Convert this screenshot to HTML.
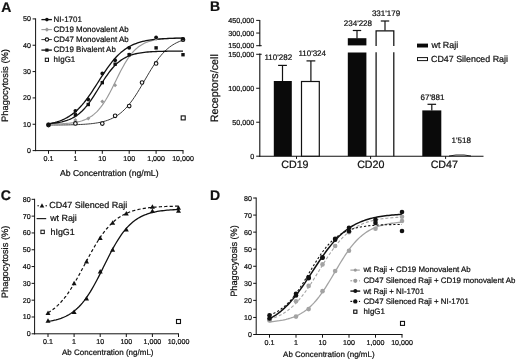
<!DOCTYPE html>
<html lang="en"><head><meta charset="utf-8"><title>Figure</title>
<style>
html,body{margin:0;padding:0;background:#fff;}
body{width:520px;height:359px;overflow:hidden;}
svg{display:block;filter:blur(0.3px);}
svg text{font-family:"Liberation Sans",sans-serif;fill:#111;text-rendering:geometricPrecision;stroke:#111;stroke-width:0.22px;}
</style></head><body>
<svg width="520" height="359" viewBox="0 0 520 359">
<rect width="520" height="359" fill="#fff"/>
<text x="1.30" y="11.50" font-size="14" text-anchor="start" font-weight="bold" fill="#000">A</text>
<line x1="35.60" y1="18.40" x2="35.60" y2="151.10" stroke="#111" stroke-width="1"/>
<line x1="35.10" y1="150.60" x2="183.50" y2="150.60" stroke="#111" stroke-width="1"/>
<line x1="48.50" y1="150.60" x2="48.50" y2="153.80" stroke="#111" stroke-width="1"/>
<text x="48.50" y="161.00" font-size="7.1" text-anchor="middle">0.1</text>
<line x1="75.40" y1="150.60" x2="75.40" y2="153.80" stroke="#111" stroke-width="1"/>
<text x="75.40" y="161.00" font-size="7.1" text-anchor="middle">1</text>
<line x1="102.30" y1="150.60" x2="102.30" y2="153.80" stroke="#111" stroke-width="1"/>
<text x="102.30" y="161.00" font-size="7.1" text-anchor="middle">10</text>
<line x1="129.20" y1="150.60" x2="129.20" y2="153.80" stroke="#111" stroke-width="1"/>
<text x="129.20" y="161.00" font-size="7.1" text-anchor="middle">100</text>
<line x1="156.10" y1="150.60" x2="156.10" y2="153.80" stroke="#111" stroke-width="1"/>
<text x="156.10" y="161.00" font-size="7.1" text-anchor="middle">1,000</text>
<line x1="183.00" y1="150.60" x2="183.00" y2="153.80" stroke="#111" stroke-width="1"/>
<text x="183.00" y="161.00" font-size="7.1" text-anchor="middle">10,000</text>
<line x1="32.60" y1="150.60" x2="35.60" y2="150.60" stroke="#111" stroke-width="1"/>
<text x="31.00" y="153.10" font-size="7.1" text-anchor="end">0</text>
<line x1="32.60" y1="124.26" x2="35.60" y2="124.26" stroke="#111" stroke-width="1"/>
<text x="31.00" y="126.76" font-size="7.1" text-anchor="end">10</text>
<line x1="32.60" y1="97.92" x2="35.60" y2="97.92" stroke="#111" stroke-width="1"/>
<text x="31.00" y="100.42" font-size="7.1" text-anchor="end">20</text>
<line x1="32.60" y1="71.58" x2="35.60" y2="71.58" stroke="#111" stroke-width="1"/>
<text x="31.00" y="74.08" font-size="7.1" text-anchor="end">30</text>
<line x1="32.60" y1="45.24" x2="35.60" y2="45.24" stroke="#111" stroke-width="1"/>
<text x="31.00" y="47.74" font-size="7.1" text-anchor="end">40</text>
<line x1="32.60" y1="18.90" x2="35.60" y2="18.90" stroke="#111" stroke-width="1"/>
<text x="31.00" y="21.40" font-size="7.1" text-anchor="end">50</text>
<text x="60.00" y="175.80" font-size="8.6" text-anchor="start" textLength="98.5" lengthAdjust="spacingAndGlyphs">Ab Concentration (ng/mL)</text>
<text x="7.60" y="122.00" font-size="9.3" text-anchor="start" textLength="73" lengthAdjust="spacingAndGlyphs" transform="rotate(-90 7.60 122.00)">Phagocytosis (%)</text>
<path d="M48.50,125.05 L50.18,125.04 L51.86,125.03 L53.54,125.03 L55.23,125.01 L56.91,125.00 L58.59,124.99 L60.27,124.97 L61.95,124.95 L63.63,124.93 L65.31,124.91 L66.99,124.88 L68.67,124.85 L70.36,124.82 L72.04,124.78 L73.72,124.73 L75.40,124.68 L77.08,124.63 L78.76,124.56 L80.44,124.48 L82.12,124.40 L83.81,124.30 L85.49,124.19 L87.17,124.07 L88.85,123.92 L90.53,123.76 L92.21,123.58 L93.89,123.37 L95.57,123.14 L97.26,122.87 L98.94,122.57 L100.62,122.23 L102.30,121.85 L103.98,121.41 L105.66,120.92 L107.34,120.37 L109.03,119.76 L110.71,119.06 L112.39,118.29 L114.07,117.42 L115.75,116.46 L117.43,115.39 L119.11,114.20 L120.79,112.90 L122.47,111.46 L124.16,109.89 L125.84,108.17 L127.52,106.32 L129.20,104.31 L130.88,102.17 L132.56,99.88 L134.24,97.46 L135.93,94.92 L137.61,92.27 L139.29,89.52 L140.97,86.71 L142.65,83.84 L144.33,80.94 L146.01,78.04 L147.69,75.16 L149.38,72.32 L151.06,69.55 L152.74,66.86 L154.42,64.28 L156.10,61.82 L157.78,59.49 L159.46,57.30 L161.14,55.25 L162.82,53.34 L164.51,51.58 L166.19,49.96 L167.87,48.48 L169.55,47.13 L171.23,45.90 L172.91,44.80 L174.59,43.80 L176.27,42.90 L177.96,42.10 L179.64,41.38 L181.32,40.74 L183.00,40.17" fill="none" stroke="#3a3a3a" stroke-width="1.0" stroke-linejoin="round"/>
<path d="M48.50,124.11 L50.18,124.08 L51.86,124.05 L53.54,124.01 L55.23,123.97 L56.91,123.92 L58.59,123.86 L60.27,123.79 L61.95,123.71 L63.63,123.62 L65.31,123.51 L66.99,123.39 L68.67,123.24 L70.36,123.06 L72.04,122.86 L73.72,122.63 L75.40,122.35 L77.08,122.04 L78.76,121.67 L80.44,121.24 L82.12,120.74 L83.81,120.16 L85.49,119.50 L87.17,118.73 L88.85,117.86 L90.53,116.85 L92.21,115.71 L93.89,114.41 L95.57,112.94 L97.26,111.29 L98.94,109.45 L100.62,107.40 L102.30,105.15 L103.98,102.69 L105.66,100.03 L107.34,97.17 L109.03,94.15 L110.71,90.97 L112.39,87.68 L114.07,84.31 L115.75,80.89 L117.43,77.48 L119.11,74.12 L120.79,70.83 L122.47,67.67 L124.16,64.66 L125.84,61.83 L127.52,59.18 L129.20,56.75 L130.88,54.51 L132.56,52.49 L134.24,50.67 L135.93,49.03 L137.61,47.58 L139.29,46.30 L140.97,45.17 L142.65,44.18 L144.33,43.31 L146.01,42.56 L147.69,41.90 L149.38,41.33 L151.06,40.84 L152.74,40.42 L154.42,40.06 L156.10,39.74 L157.78,39.47 L159.46,39.24 L161.14,39.04 L162.82,38.87 L164.51,38.73 L166.19,38.60 L167.87,38.49 L169.55,38.40 L171.23,38.32 L172.91,38.26 L174.59,38.20 L176.27,38.15 L177.96,38.11 L179.64,38.07 L181.32,38.04 L183.00,38.02" fill="none" stroke="#999" stroke-width="1.15" stroke-linejoin="round"/>
<path d="M48.50,123.67 L50.18,123.54 L51.86,123.38 L53.54,123.20 L55.23,123.00 L56.91,122.76 L58.59,122.49 L60.27,122.17 L61.95,121.81 L63.63,121.39 L65.31,120.92 L66.99,120.38 L68.67,119.76 L70.36,119.05 L72.04,118.25 L73.72,117.35 L75.40,116.33 L77.08,115.19 L78.76,113.91 L80.44,112.49 L82.12,110.92 L83.81,109.20 L85.49,107.33 L87.17,105.30 L88.85,103.12 L90.53,100.81 L92.21,98.37 L93.89,95.82 L95.57,93.19 L97.26,90.50 L98.94,87.78 L100.62,85.06 L102.30,82.37 L103.98,79.74 L105.66,77.20 L107.34,74.76 L109.03,72.44 L110.71,70.26 L112.39,68.23 L114.07,66.36 L115.75,64.64 L117.43,63.07 L119.11,61.65 L120.79,60.38 L122.47,59.23 L124.16,58.21 L125.84,57.31 L127.52,56.51 L129.20,55.80 L130.88,55.18 L132.56,54.64 L134.24,54.16 L135.93,53.75 L137.61,53.39 L139.29,53.07 L140.97,52.80 L142.65,52.56 L144.33,52.35 L146.01,52.18 L147.69,52.02 L149.38,51.89 L151.06,51.77 L152.74,51.67 L154.42,51.58 L156.10,51.51 L157.78,51.44 L159.46,51.39 L161.14,51.34 L162.82,51.30 L164.51,51.26 L166.19,51.23 L167.87,51.20 L169.55,51.18 L171.23,51.16 L172.91,51.14 L174.59,51.13 L176.27,51.12 L177.96,51.10 L179.64,51.09 L181.32,51.09 L183.00,51.08" fill="none" stroke="#111" stroke-width="1.3" stroke-linejoin="round"/>
<path d="M48.50,123.84 L50.18,123.53 L51.86,123.18 L53.54,122.79 L55.23,122.36 L56.91,121.88 L58.59,121.34 L60.27,120.74 L61.95,120.08 L63.63,119.34 L65.31,118.53 L66.99,117.64 L68.67,116.65 L70.36,115.57 L72.04,114.38 L73.72,113.09 L75.40,111.69 L77.08,110.16 L78.76,108.52 L80.44,106.76 L82.12,104.88 L83.81,102.87 L85.49,100.76 L87.17,98.53 L88.85,96.20 L90.53,93.78 L92.21,91.29 L93.89,88.73 L95.57,86.13 L97.26,83.49 L98.94,80.85 L100.62,78.22 L102.30,75.61 L103.98,73.05 L105.66,70.55 L107.34,68.13 L109.03,65.80 L110.71,63.57 L112.39,61.45 L114.07,59.44 L115.75,57.55 L117.43,55.78 L119.11,54.14 L120.79,52.61 L122.47,51.20 L124.16,49.90 L125.84,48.71 L127.52,47.63 L129.20,46.64 L130.88,45.74 L132.56,44.92 L134.24,44.18 L135.93,43.52 L137.61,42.92 L139.29,42.38 L140.97,41.89 L142.65,41.46 L144.33,41.07 L146.01,40.72 L147.69,40.41 L149.38,40.13 L151.06,39.88 L152.74,39.66 L154.42,39.46 L156.10,39.28 L157.78,39.12 L159.46,38.98 L161.14,38.86 L162.82,38.75 L164.51,38.65 L166.19,38.56 L167.87,38.48 L169.55,38.42 L171.23,38.35 L172.91,38.30 L174.59,38.25 L176.27,38.21 L177.96,38.17 L179.64,38.13 L181.32,38.10 L183.00,38.08" fill="none" stroke="#111" stroke-width="1.3" stroke-linejoin="round"/>
<path d="M48.50,123.31 L50.50,125.31 L48.50,127.31 L46.50,125.31 Z" fill="#999"/>
<path d="M75.40,117.91 L77.40,119.91 L75.40,121.91 L73.40,119.91 Z" fill="#999"/>
<path d="M88.23,116.47 L90.23,118.47 L88.23,120.47 L86.23,118.47 Z" fill="#999"/>
<path d="M102.30,99.61 L104.30,101.61 L102.30,103.61 L100.30,101.61 Z" fill="#999"/>
<path d="M115.13,83.28 L117.13,85.28 L115.13,87.28 L113.13,85.28 Z" fill="#999"/>
<path d="M129.20,52.20 L131.20,54.20 L129.20,56.20 L127.20,54.20 Z" fill="#999"/>
<path d="M156.10,36.66 L158.10,38.66 L156.10,40.66 L154.10,38.66 Z" fill="#999"/>
<path d="M183.00,37.45 L185.00,39.45 L183.00,41.45 L181.00,39.45 Z" fill="#999"/>
<circle cx="48.50" cy="125.05" r="1.8" fill="#fff" stroke="#111" stroke-width="1.1"/>
<circle cx="75.40" cy="123.47" r="1.8" fill="#fff" stroke="#111" stroke-width="1.1"/>
<circle cx="102.30" cy="123.60" r="1.8" fill="#fff" stroke="#111" stroke-width="1.1"/>
<circle cx="115.13" cy="115.83" r="1.8" fill="#fff" stroke="#111" stroke-width="1.1"/>
<circle cx="129.20" cy="106.09" r="1.8" fill="#fff" stroke="#111" stroke-width="1.1"/>
<circle cx="142.03" cy="82.51" r="1.8" fill="#fff" stroke="#111" stroke-width="1.1"/>
<circle cx="156.10" cy="63.41" r="1.8" fill="#fff" stroke="#111" stroke-width="1.1"/>
<circle cx="183.00" cy="39.71" r="1.8" fill="#fff" stroke="#111" stroke-width="1.1"/>
<rect x="46.80" y="122.82" width="3.4" height="3.4" fill="#111"/>
<rect x="73.70" y="113.08" width="3.4" height="3.4" fill="#111"/>
<rect x="86.53" y="102.80" width="3.4" height="3.4" fill="#111"/>
<rect x="100.60" y="80.94" width="3.4" height="3.4" fill="#111"/>
<rect x="113.43" y="62.50" width="3.4" height="3.4" fill="#111"/>
<rect x="127.50" y="53.02" width="3.4" height="3.4" fill="#111"/>
<rect x="154.40" y="46.17" width="3.4" height="3.4" fill="#111"/>
<rect x="181.30" y="53.02" width="3.4" height="3.4" fill="#111"/>
<circle cx="48.50" cy="124.52" r="1.9" fill="#111"/>
<circle cx="75.40" cy="110.83" r="1.9" fill="#111"/>
<circle cx="88.23" cy="99.50" r="1.9" fill="#111"/>
<circle cx="102.30" cy="73.42" r="1.9" fill="#111"/>
<circle cx="115.13" cy="60.25" r="1.9" fill="#111"/>
<circle cx="129.20" cy="47.87" r="1.9" fill="#111"/>
<circle cx="156.10" cy="37.34" r="1.9" fill="#111"/>
<circle cx="183.00" cy="38.92" r="1.9" fill="#111"/>
<rect x="181.20" y="115.90" width="4.0" height="4.0" fill="#fff" stroke="#111" stroke-width="1.1"/>
<line x1="41.40" y1="19.60" x2="51.90" y2="19.60" stroke="#111" stroke-width="1.3"/>
<circle cx="46.90" cy="19.60" r="1.8" fill="#111"/>
<line x1="41.40" y1="29.60" x2="51.90" y2="29.60" stroke="#999" stroke-width="1.1"/>
<path d="M46.90,27.40 L49.10,29.60 L46.90,31.80 L44.70,29.60 Z" fill="#999"/>
<line x1="41.40" y1="39.60" x2="51.90" y2="39.60" stroke="#333" stroke-width="1.0"/>
<circle cx="46.90" cy="39.60" r="1.7" fill="#fff" stroke="#111" stroke-width="1.1"/>
<line x1="41.40" y1="50.10" x2="51.90" y2="50.10" stroke="#111" stroke-width="1.3"/>
<rect x="45.30" y="48.50" width="3.2" height="3.2" fill="#111"/>
<rect x="45.30" y="58.20" width="3.2" height="3.2" fill="#fff" stroke="#111" stroke-width="1.0"/>
<text x="53.60" y="21.95" font-size="7.95" text-anchor="start">NI-1701</text>
<text x="53.60" y="31.95" font-size="7.95" text-anchor="start">CD19 Monovalent Ab</text>
<text x="53.60" y="41.95" font-size="7.95" text-anchor="start">CD47 Monovalent Ab</text>
<text x="53.60" y="52.45" font-size="7.95" text-anchor="start">CD19 Bivalent Ab</text>
<text x="53.60" y="62.15" font-size="7.95" text-anchor="start">hIgG1</text>
<text x="210.10" y="11.30" font-size="14" text-anchor="start" font-weight="bold" fill="#000">B</text>
<line x1="259.80" y1="53.50" x2="259.80" y2="156.70" stroke="#111" stroke-width="1.1"/>
<line x1="259.80" y1="19.90" x2="259.80" y2="46.20" stroke="#111" stroke-width="1.1"/>
<line x1="259.30" y1="156.20" x2="483.50" y2="156.20" stroke="#111" stroke-width="1.1"/>
<line x1="256.20" y1="156.20" x2="259.80" y2="156.20" stroke="#111" stroke-width="1"/>
<text x="254.30" y="158.70" font-size="7.2" text-anchor="end">0</text>
<line x1="256.20" y1="122.23" x2="259.80" y2="122.23" stroke="#111" stroke-width="1"/>
<text x="254.30" y="124.73" font-size="7.2" text-anchor="end">50,000</text>
<line x1="256.20" y1="88.26" x2="259.80" y2="88.26" stroke="#111" stroke-width="1"/>
<text x="254.30" y="90.76" font-size="7.2" text-anchor="end">100,000</text>
<line x1="256.20" y1="54.29" x2="261.70" y2="54.29" stroke="#111" stroke-width="1"/>
<text x="254.30" y="56.79" font-size="7.2" text-anchor="end">150,000</text>
<line x1="256.20" y1="20.40" x2="259.80" y2="20.40" stroke="#111" stroke-width="1"/>
<text x="254.30" y="22.90" font-size="7.2" text-anchor="end">450,000</text>
<line x1="256.20" y1="33.05" x2="259.80" y2="33.05" stroke="#111" stroke-width="1"/>
<text x="254.30" y="35.55" font-size="7.2" text-anchor="end">300,000</text>
<line x1="256.20" y1="45.70" x2="261.70" y2="45.70" stroke="#111" stroke-width="1"/>
<text x="254.30" y="48.20" font-size="7.2" text-anchor="end">150,000</text>
<text x="218.20" y="122.20" font-size="10.7" text-anchor="start" textLength="68" lengthAdjust="spacingAndGlyphs" transform="rotate(-90 218.20 122.20)">Receptors/cell</text>
<line x1="296.50" y1="156.20" x2="296.50" y2="158.90" stroke="#111" stroke-width="1"/>
<text x="294.90" y="168.40" font-size="10.7" text-anchor="middle">CD19</text>
<line x1="370.60" y1="156.20" x2="370.60" y2="158.90" stroke="#111" stroke-width="1"/>
<text x="370.80" y="168.40" font-size="10.7" text-anchor="middle">CD20</text>
<line x1="445.60" y1="156.20" x2="445.60" y2="158.90" stroke="#111" stroke-width="1"/>
<text x="444.30" y="168.40" font-size="10.7" text-anchor="middle">CD47</text>
<line x1="282.50" y1="65.40" x2="282.50" y2="81.00" stroke="#111" stroke-width="1.2"/>
<line x1="278.10" y1="65.40" x2="286.90" y2="65.40" stroke="#111" stroke-width="1.2"/>
<rect x="273.80" y="81.00" width="18.00" height="75.20" fill="#0a0a0a"/>
<line x1="310.90" y1="60.90" x2="310.90" y2="81.00" stroke="#111" stroke-width="1.2"/>
<line x1="306.50" y1="60.90" x2="315.30" y2="60.90" stroke="#111" stroke-width="1.2"/>
<rect x="301.50" y="81.50" width="17.80" height="74.70" fill="#fff" stroke="#111" stroke-width="1.2"/>
<line x1="357.00" y1="30.50" x2="357.00" y2="38.50" stroke="#111" stroke-width="1.2"/>
<line x1="352.80" y1="30.50" x2="361.20" y2="30.50" stroke="#111" stroke-width="1.2"/>
<rect x="347.80" y="52.50" width="18.60" height="103.70" fill="#0a0a0a"/>
<rect x="347.80" y="38.20" width="18.60" height="7.20" fill="#0a0a0a"/>
<line x1="385.00" y1="21.00" x2="385.00" y2="30.50" stroke="#111" stroke-width="1.2"/>
<line x1="380.80" y1="21.00" x2="389.20" y2="21.00" stroke="#111" stroke-width="1.2"/>
<path d="M376.1,156.2 V52.3 M393.8,156.2 V52.3 M376.1,46 V30.8 H393.8 V46" fill="none" stroke="#111" stroke-width="1.25"/>
<line x1="431.80" y1="104.30" x2="431.80" y2="110.50" stroke="#111" stroke-width="1.2"/>
<line x1="427.50" y1="104.30" x2="436.10" y2="104.30" stroke="#111" stroke-width="1.2"/>
<rect x="422.30" y="110.40" width="19.00" height="45.80" fill="#0a0a0a"/>
<path d="M449,156.0 L456,155.0 L464,155.0 L471,156.0" fill="none" stroke="#111" stroke-width="0.9"/>
<text x="278.30" y="59.90" font-size="8.0" text-anchor="middle">110'282</text>
<text x="312.20" y="55.70" font-size="8.0" text-anchor="middle">110'324</text>
<text x="357.90" y="25.80" font-size="8.0" text-anchor="middle">234'228</text>
<text x="386.00" y="15.50" font-size="8.0" text-anchor="middle">331'179</text>
<text x="432.50" y="99.50" font-size="8.0" text-anchor="middle">67'881</text>
<text x="461.20" y="142.80" font-size="8.0" text-anchor="middle">1'518</text>
<rect x="417" y="43.6" width="11" height="3.9" fill="#0a0a0a"/>
<rect x="417.5" y="57.6" width="10" height="3" fill="#fff" stroke="#111" stroke-width="1"/>
<text x="431.50" y="47.80" font-size="8.9" text-anchor="start">wt Raji</text>
<text x="431.00" y="62.30" font-size="8.9" text-anchor="start" textLength="77" lengthAdjust="spacingAndGlyphs">CD47 Silenced Raji</text>
<text x="0.75" y="199.50" font-size="14" text-anchor="start" font-weight="bold" fill="#000">C</text>
<line x1="34.60" y1="198.80" x2="34.60" y2="334.30" stroke="#111" stroke-width="1"/>
<line x1="34.10" y1="333.80" x2="179.00" y2="333.80" stroke="#111" stroke-width="1"/>
<line x1="48.00" y1="333.80" x2="48.00" y2="337.00" stroke="#111" stroke-width="1"/>
<text x="48.00" y="343.80" font-size="7.1" text-anchor="middle">0.1</text>
<line x1="74.10" y1="333.80" x2="74.10" y2="337.00" stroke="#111" stroke-width="1"/>
<text x="74.10" y="343.80" font-size="7.1" text-anchor="middle">1</text>
<line x1="100.20" y1="333.80" x2="100.20" y2="337.00" stroke="#111" stroke-width="1"/>
<text x="100.20" y="343.80" font-size="7.1" text-anchor="middle">10</text>
<line x1="126.30" y1="333.80" x2="126.30" y2="337.00" stroke="#111" stroke-width="1"/>
<text x="126.30" y="343.80" font-size="7.1" text-anchor="middle">100</text>
<line x1="152.40" y1="333.80" x2="152.40" y2="337.00" stroke="#111" stroke-width="1"/>
<text x="152.40" y="343.80" font-size="7.1" text-anchor="middle">1,000</text>
<line x1="178.50" y1="333.80" x2="178.50" y2="337.00" stroke="#111" stroke-width="1"/>
<text x="178.50" y="343.80" font-size="7.1" text-anchor="middle">10,000</text>
<line x1="31.60" y1="333.80" x2="34.60" y2="333.80" stroke="#111" stroke-width="1"/>
<text x="30.60" y="336.30" font-size="7.1" text-anchor="end">0</text>
<line x1="31.60" y1="316.99" x2="34.60" y2="316.99" stroke="#111" stroke-width="1"/>
<text x="30.60" y="319.49" font-size="7.1" text-anchor="end">10</text>
<line x1="31.60" y1="300.18" x2="34.60" y2="300.18" stroke="#111" stroke-width="1"/>
<text x="30.60" y="302.68" font-size="7.1" text-anchor="end">20</text>
<line x1="31.60" y1="283.37" x2="34.60" y2="283.37" stroke="#111" stroke-width="1"/>
<text x="30.60" y="285.87" font-size="7.1" text-anchor="end">30</text>
<line x1="31.60" y1="266.56" x2="34.60" y2="266.56" stroke="#111" stroke-width="1"/>
<text x="30.60" y="269.06" font-size="7.1" text-anchor="end">40</text>
<line x1="31.60" y1="249.75" x2="34.60" y2="249.75" stroke="#111" stroke-width="1"/>
<text x="30.60" y="252.25" font-size="7.1" text-anchor="end">50</text>
<line x1="31.60" y1="232.94" x2="34.60" y2="232.94" stroke="#111" stroke-width="1"/>
<text x="30.60" y="235.44" font-size="7.1" text-anchor="end">60</text>
<line x1="31.60" y1="216.13" x2="34.60" y2="216.13" stroke="#111" stroke-width="1"/>
<text x="30.60" y="218.63" font-size="7.1" text-anchor="end">70</text>
<line x1="31.60" y1="199.32" x2="34.60" y2="199.32" stroke="#111" stroke-width="1"/>
<text x="30.60" y="201.82" font-size="7.1" text-anchor="end">80</text>
<text x="62.00" y="355.30" font-size="8.0" text-anchor="start" textLength="91.5" lengthAdjust="spacingAndGlyphs">Ab Concentration (ng/mL)</text>
<text x="7.60" y="298.20" font-size="9.2" text-anchor="start" textLength="72.7" lengthAdjust="spacingAndGlyphs" transform="rotate(-90 7.60 298.20)">Phagocytosis (%)</text>
<path d="M48.00,312.84 L49.63,311.84 L51.26,310.74 L52.89,309.55 L54.52,308.26 L56.16,306.86 L57.79,305.36 L59.42,303.73 L61.05,301.99 L62.68,300.13 L64.31,298.14 L65.94,296.03 L67.58,293.80 L69.21,291.44 L70.84,288.97 L72.47,286.38 L74.10,283.69 L75.73,280.91 L77.36,278.04 L78.99,275.10 L80.62,272.11 L82.26,269.07 L83.89,266.01 L85.52,262.94 L87.15,259.87 L88.78,256.83 L90.41,253.83 L92.04,250.89 L93.68,248.02 L95.31,245.23 L96.94,242.54 L98.57,239.94 L100.20,237.46 L101.83,235.10 L103.46,232.86 L105.09,230.74 L106.72,228.74 L108.36,226.87 L109.99,225.12 L111.62,223.49 L113.25,221.98 L114.88,220.57 L116.51,219.28 L118.14,218.08 L119.78,216.98 L121.41,215.97 L123.04,215.04 L124.67,214.19 L126.30,213.41 L127.93,212.71 L129.56,212.06 L131.19,211.47 L132.82,210.94 L134.46,210.45 L136.09,210.01 L137.72,209.61 L139.35,209.25 L140.98,208.92 L142.61,208.63 L144.24,208.36 L145.88,208.12 L147.51,207.90 L149.14,207.70 L150.77,207.52 L152.40,207.36 L154.03,207.21 L155.66,207.08 L157.29,206.96 L158.93,206.85 L160.56,206.76 L162.19,206.67 L163.82,206.59 L165.45,206.52 L167.08,206.46 L168.71,206.40 L170.34,206.35 L171.98,206.30 L173.61,206.26 L175.24,206.22 L176.87,206.19 L178.50,206.15" fill="none" stroke="#111" stroke-width="1.2" stroke-dasharray="3.2,2.2" stroke-linejoin="round"/>
<path d="M48.00,321.43 L49.63,321.17 L51.26,320.88 L52.89,320.55 L54.52,320.19 L56.16,319.79 L57.79,319.34 L59.42,318.84 L61.05,318.28 L62.68,317.66 L64.31,316.98 L65.94,316.22 L67.58,315.38 L69.21,314.46 L70.84,313.44 L72.47,312.32 L74.10,311.10 L75.73,309.75 L77.36,308.29 L78.99,306.69 L80.62,304.96 L82.26,303.10 L83.89,301.08 L85.52,298.93 L87.15,296.62 L88.78,294.18 L90.41,291.59 L92.04,288.86 L93.68,286.01 L95.31,283.05 L96.94,279.98 L98.57,276.83 L100.20,273.61 L101.83,270.34 L103.46,267.04 L105.09,263.74 L106.72,260.46 L108.36,257.21 L109.99,254.03 L111.62,250.92 L113.25,247.90 L114.88,244.99 L116.51,242.21 L118.14,239.56 L119.78,237.04 L121.41,234.67 L123.04,232.44 L124.67,230.36 L126.30,228.42 L127.93,226.63 L129.56,224.97 L131.19,223.44 L132.82,222.04 L134.46,220.76 L136.09,219.59 L137.72,218.53 L139.35,217.56 L140.98,216.68 L142.61,215.89 L144.24,215.17 L145.88,214.52 L147.51,213.94 L149.14,213.41 L150.77,212.94 L152.40,212.51 L154.03,212.13 L155.66,211.79 L157.29,211.48 L158.93,211.21 L160.56,210.96 L162.19,210.74 L163.82,210.54 L165.45,210.37 L167.08,210.21 L168.71,210.07 L170.34,209.94 L171.98,209.83 L173.61,209.73 L175.24,209.64 L176.87,209.56 L178.50,209.49" fill="none" stroke="#111" stroke-width="1.3" stroke-linejoin="round"/>
<path d="M48.00,310.46 L50.50,314.96 L45.50,314.96 Z" fill="#111"/>
<path d="M74.10,280.87 L76.60,285.37 L71.60,285.37 Z" fill="#111"/>
<path d="M86.55,259.02 L89.05,263.52 L84.05,263.52 Z" fill="#111"/>
<path d="M100.20,235.48 L102.70,239.98 L97.70,239.98 Z" fill="#111"/>
<path d="M112.65,220.35 L115.15,224.85 L110.15,224.85 Z" fill="#111"/>
<path d="M126.30,211.11 L128.80,215.61 L123.80,215.61 Z" fill="#111"/>
<path d="M152.40,204.22 L154.90,208.72 L149.90,208.72 Z" fill="#111"/>
<path d="M178.50,205.23 L181.00,209.73 L176.00,209.73 Z" fill="#111"/>
<path d="M48.00,318.19 L50.50,322.69 L45.50,322.69 Z" fill="#111"/>
<path d="M74.10,309.45 L76.60,313.95 L71.60,313.95 Z" fill="#111"/>
<path d="M86.55,296.00 L89.05,300.50 L84.05,300.50 Z" fill="#111"/>
<path d="M100.20,269.10 L102.70,273.60 L97.70,273.60 Z" fill="#111"/>
<path d="M112.65,247.25 L115.15,251.75 L110.15,251.75 Z" fill="#111"/>
<path d="M126.30,227.08 L128.80,231.58 L123.80,231.58 Z" fill="#111"/>
<path d="M152.40,208.59 L154.90,213.09 L149.90,213.09 Z" fill="#111"/>
<path d="M178.50,208.25 L181.00,212.75 L176.00,212.75 Z" fill="#111"/>
<rect x="176.50" y="319.50" width="4.0" height="4.0" fill="#fff" stroke="#111" stroke-width="1.1"/>
<circle cx="38.10" cy="205.80" r="0.75" fill="#111"/>
<circle cx="46.20" cy="205.80" r="0.75" fill="#111"/>
<path d="M42.00,203.30 L44.30,207.44 L39.70,207.44 Z" fill="#111"/>
<line x1="36.60" y1="218.60" x2="46.20" y2="218.60" stroke="#222" stroke-width="1.2"/>
<rect x="40.90" y="230.20" width="3.4" height="3.4" fill="#fff" stroke="#111" stroke-width="1.0"/>
<text x="49.30" y="208.40" font-size="8.9" text-anchor="start" textLength="78" lengthAdjust="spacingAndGlyphs">CD47 Silenced Raji</text>
<text x="50.20" y="221.40" font-size="8.9" text-anchor="start">wt Raji</text>
<text x="50.50" y="235.00" font-size="8.9" text-anchor="start">hIgG1</text>
<text x="210.10" y="199.60" font-size="14" text-anchor="start" font-weight="bold" fill="#000">D</text>
<line x1="256.20" y1="197.50" x2="256.20" y2="335.00" stroke="#111" stroke-width="1"/>
<line x1="255.70" y1="334.50" x2="402.50" y2="334.50" stroke="#111" stroke-width="1"/>
<line x1="269.50" y1="334.50" x2="269.50" y2="337.70" stroke="#111" stroke-width="1"/>
<text x="269.50" y="345.00" font-size="7.1" text-anchor="middle">0.1</text>
<line x1="296.00" y1="334.50" x2="296.00" y2="337.70" stroke="#111" stroke-width="1"/>
<text x="296.00" y="345.00" font-size="7.1" text-anchor="middle">1</text>
<line x1="322.50" y1="334.50" x2="322.50" y2="337.70" stroke="#111" stroke-width="1"/>
<text x="322.50" y="345.00" font-size="7.1" text-anchor="middle">10</text>
<line x1="349.00" y1="334.50" x2="349.00" y2="337.70" stroke="#111" stroke-width="1"/>
<text x="349.00" y="345.00" font-size="7.1" text-anchor="middle">100</text>
<line x1="375.50" y1="334.50" x2="375.50" y2="337.70" stroke="#111" stroke-width="1"/>
<text x="375.50" y="345.00" font-size="7.1" text-anchor="middle">1,000</text>
<line x1="402.00" y1="334.50" x2="402.00" y2="337.70" stroke="#111" stroke-width="1"/>
<text x="402.00" y="345.00" font-size="7.1" text-anchor="middle">10,000</text>
<line x1="253.20" y1="334.50" x2="256.20" y2="334.50" stroke="#111" stroke-width="1"/>
<text x="252.00" y="337.00" font-size="7.1" text-anchor="end">0</text>
<line x1="253.20" y1="317.44" x2="256.20" y2="317.44" stroke="#111" stroke-width="1"/>
<text x="252.00" y="319.94" font-size="7.1" text-anchor="end">10</text>
<line x1="253.20" y1="300.38" x2="256.20" y2="300.38" stroke="#111" stroke-width="1"/>
<text x="252.00" y="302.88" font-size="7.1" text-anchor="end">20</text>
<line x1="253.20" y1="283.32" x2="256.20" y2="283.32" stroke="#111" stroke-width="1"/>
<text x="252.00" y="285.82" font-size="7.1" text-anchor="end">30</text>
<line x1="253.20" y1="266.26" x2="256.20" y2="266.26" stroke="#111" stroke-width="1"/>
<text x="252.00" y="268.76" font-size="7.1" text-anchor="end">40</text>
<line x1="253.20" y1="249.20" x2="256.20" y2="249.20" stroke="#111" stroke-width="1"/>
<text x="252.00" y="251.70" font-size="7.1" text-anchor="end">50</text>
<line x1="253.20" y1="232.14" x2="256.20" y2="232.14" stroke="#111" stroke-width="1"/>
<text x="252.00" y="234.64" font-size="7.1" text-anchor="end">60</text>
<line x1="253.20" y1="215.08" x2="256.20" y2="215.08" stroke="#111" stroke-width="1"/>
<text x="252.00" y="217.58" font-size="7.1" text-anchor="end">70</text>
<line x1="253.20" y1="198.02" x2="256.20" y2="198.02" stroke="#111" stroke-width="1"/>
<text x="252.00" y="200.52" font-size="7.1" text-anchor="end">80</text>
<text x="283.10" y="356.50" font-size="8.0" text-anchor="start" textLength="91.5" lengthAdjust="spacingAndGlyphs">Ab Concentration (ng/mL)</text>
<text x="236.80" y="296.80" font-size="9.2" text-anchor="start" textLength="71.7" lengthAdjust="spacingAndGlyphs" transform="rotate(-90 236.80 296.80)">Phagocytosis (%)</text>
<path d="M269.50,321.91 L271.16,321.76 L272.81,321.60 L274.47,321.41 L276.12,321.21 L277.78,320.98 L279.44,320.73 L281.09,320.44 L282.75,320.13 L284.41,319.78 L286.06,319.40 L287.72,318.97 L289.38,318.50 L291.03,317.98 L292.69,317.41 L294.34,316.77 L296.00,316.07 L297.66,315.31 L299.31,314.46 L300.97,313.54 L302.62,312.53 L304.28,311.43 L305.94,310.23 L307.59,308.92 L309.25,307.51 L310.91,305.99 L312.56,304.35 L314.22,302.60 L315.88,300.72 L317.53,298.73 L319.19,296.61 L320.84,294.38 L322.50,292.05 L324.16,289.61 L325.81,287.07 L327.47,284.45 L329.12,281.77 L330.78,279.02 L332.44,276.24 L334.09,273.43 L335.75,270.61 L337.41,267.80 L339.06,265.02 L340.72,262.28 L342.38,259.59 L344.03,256.98 L345.69,254.45 L347.34,252.02 L349.00,249.69 L350.66,247.47 L352.31,245.37 L353.97,243.38 L355.62,241.52 L357.28,239.77 L358.94,238.14 L360.59,236.63 L362.25,235.23 L363.91,233.93 L365.56,232.74 L367.22,231.64 L368.88,230.64 L370.53,229.72 L372.19,228.89 L373.84,228.12 L375.50,227.43 L377.16,226.80 L378.81,226.23 L380.47,225.72 L382.12,225.25 L383.78,224.83 L385.44,224.44 L387.09,224.10 L388.75,223.79 L390.41,223.51 L392.06,223.26 L393.72,223.03 L395.38,222.83 L397.03,222.65 L398.69,222.48 L400.34,222.33 L402.00,222.20" fill="none" stroke="#a3a3a3" stroke-width="1.3" stroke-linejoin="round"/>
<path d="M269.50,319.47 L271.16,318.95 L272.81,318.38 L274.47,317.77 L276.12,317.09 L277.78,316.36 L279.44,315.56 L281.09,314.70 L282.75,313.76 L284.41,312.74 L286.06,311.64 L287.72,310.46 L289.38,309.18 L291.03,307.81 L292.69,306.35 L294.34,304.78 L296.00,303.12 L297.66,301.35 L299.31,299.47 L300.97,297.50 L302.62,295.42 L304.28,293.25 L305.94,290.99 L307.59,288.64 L309.25,286.21 L310.91,283.71 L312.56,281.14 L314.22,278.53 L315.88,275.88 L317.53,273.20 L319.19,270.51 L320.84,267.82 L322.50,265.14 L324.16,262.49 L325.81,259.88 L327.47,257.32 L329.12,254.82 L330.78,252.39 L332.44,250.04 L334.09,247.78 L335.75,245.61 L337.41,243.53 L339.06,241.56 L340.72,239.69 L342.38,237.92 L344.03,236.26 L345.69,234.69 L347.34,233.23 L349.00,231.86 L350.66,230.59 L352.31,229.41 L353.97,228.31 L355.62,227.29 L357.28,226.35 L358.94,225.49 L360.59,224.69 L362.25,223.96 L363.91,223.29 L365.56,222.67 L367.22,222.11 L368.88,221.59 L370.53,221.12 L372.19,220.69 L373.84,220.30 L375.50,219.94 L377.16,219.61 L378.81,219.31 L380.47,219.04 L382.12,218.79 L383.78,218.57 L385.44,218.37 L387.09,218.18 L388.75,218.01 L390.41,217.86 L392.06,217.72 L393.72,217.60 L395.38,217.48 L397.03,217.38 L398.69,217.28 L400.34,217.20 L402.00,217.12" fill="none" stroke="#a3a3a3" stroke-width="1.1" stroke-dasharray="3,2" stroke-linejoin="round"/>
<path d="M269.50,315.17 L271.16,314.52 L272.81,313.81 L274.47,313.02 L276.12,312.15 L277.78,311.19 L279.44,310.15 L281.09,309.00 L282.75,307.75 L284.41,306.39 L286.06,304.92 L287.72,303.33 L289.38,301.61 L291.03,299.78 L292.69,297.82 L294.34,295.74 L296.00,293.54 L297.66,291.23 L299.31,288.82 L300.97,286.31 L302.62,283.71 L304.28,281.05 L305.94,278.33 L307.59,275.58 L309.25,272.80 L310.91,270.02 L312.56,267.26 L314.22,264.54 L315.88,261.87 L317.53,259.26 L319.19,256.73 L320.84,254.30 L322.50,251.97 L324.16,249.76 L325.81,247.66 L327.47,245.68 L329.12,243.83 L330.78,242.09 L332.44,240.48 L334.09,238.99 L335.75,237.61 L337.41,236.34 L339.06,235.18 L340.72,234.12 L342.38,233.15 L344.03,232.26 L345.69,231.46 L347.34,230.73 L349.00,230.07 L350.66,229.48 L352.31,228.94 L353.97,228.46 L355.62,228.02 L357.28,227.63 L358.94,227.28 L360.59,226.96 L362.25,226.68 L363.91,226.43 L365.56,226.20 L367.22,226.00 L368.88,225.81 L370.53,225.65 L372.19,225.50 L373.84,225.37 L375.50,225.26 L377.16,225.15 L378.81,225.06 L380.47,224.98 L382.12,224.90 L383.78,224.84 L385.44,224.78 L387.09,224.73 L388.75,224.68 L390.41,224.64 L392.06,224.60 L393.72,224.57 L395.38,224.54 L397.03,224.51 L398.69,224.49 L400.34,224.47 L402.00,224.45" fill="none" stroke="#111" stroke-width="1.1" stroke-dasharray="2.2,2" stroke-linejoin="round"/>
<path d="M269.50,318.82 L271.16,317.92 L272.81,316.96 L274.47,315.92 L276.12,314.82 L277.78,313.64 L279.44,312.38 L281.09,311.05 L282.75,309.63 L284.41,308.14 L286.06,306.55 L287.72,304.88 L289.38,303.13 L291.03,301.29 L292.69,299.37 L294.34,297.36 L296.00,295.28 L297.66,293.12 L299.31,290.89 L300.97,288.60 L302.62,286.24 L304.28,283.84 L305.94,281.39 L307.59,278.90 L309.25,276.38 L310.91,273.85 L312.56,271.31 L314.22,268.77 L315.88,266.24 L317.53,263.73 L319.19,261.25 L320.84,258.81 L322.50,256.41 L324.16,254.07 L325.81,251.79 L327.47,249.57 L329.12,247.43 L330.78,245.37 L332.44,243.38 L334.09,241.47 L335.75,239.65 L337.41,237.92 L339.06,236.27 L340.72,234.71 L342.38,233.23 L344.03,231.83 L345.69,230.51 L347.34,229.27 L349.00,228.11 L350.66,227.02 L352.31,226.01 L353.97,225.06 L355.62,224.17 L357.28,223.34 L358.94,222.58 L360.59,221.86 L362.25,221.20 L363.91,220.59 L365.56,220.02 L367.22,219.49 L368.88,219.00 L370.53,218.55 L372.19,218.14 L373.84,217.75 L375.50,217.40 L377.16,217.07 L378.81,216.77 L380.47,216.50 L382.12,216.24 L383.78,216.01 L385.44,215.79 L387.09,215.59 L388.75,215.41 L390.41,215.24 L392.06,215.09 L393.72,214.95 L395.38,214.82 L397.03,214.70 L398.69,214.59 L400.34,214.49 L402.00,214.40" fill="none" stroke="#111" stroke-width="1.5" stroke-linejoin="round"/>
<circle cx="269.50" cy="320.51" r="2.3" fill="#a3a3a3"/>
<circle cx="296.00" cy="316.59" r="2.3" fill="#a3a3a3"/>
<circle cx="308.64" cy="309.08" r="2.3" fill="#a3a3a3"/>
<circle cx="322.50" cy="291.17" r="2.3" fill="#a3a3a3"/>
<circle cx="335.14" cy="271.04" r="2.3" fill="#a3a3a3"/>
<circle cx="349.00" cy="250.74" r="2.3" fill="#a3a3a3"/>
<circle cx="375.50" cy="228.73" r="2.3" fill="#a3a3a3"/>
<circle cx="402.00" cy="221.05" r="2.3" fill="#a3a3a3"/>
<circle cx="269.50" cy="319.83" r="2.3" fill="#a3a3a3"/>
<circle cx="296.00" cy="301.23" r="2.3" fill="#a3a3a3"/>
<circle cx="308.64" cy="285.88" r="2.3" fill="#a3a3a3"/>
<circle cx="322.50" cy="264.38" r="2.3" fill="#a3a3a3"/>
<circle cx="335.14" cy="245.96" r="2.3" fill="#a3a3a3"/>
<circle cx="349.00" cy="232.14" r="2.3" fill="#a3a3a3"/>
<circle cx="375.50" cy="221.05" r="2.3" fill="#a3a3a3"/>
<circle cx="402.00" cy="216.79" r="2.3" fill="#a3a3a3"/>
<circle cx="269.50" cy="315.39" r="2.3" fill="#111"/>
<circle cx="296.00" cy="293.73" r="2.3" fill="#111"/>
<circle cx="308.64" cy="278.20" r="2.3" fill="#111"/>
<circle cx="322.50" cy="257.73" r="2.3" fill="#111"/>
<circle cx="335.14" cy="239.65" r="2.3" fill="#111"/>
<circle cx="349.00" cy="231.29" r="2.3" fill="#111"/>
<circle cx="375.50" cy="222.93" r="2.3" fill="#111"/>
<circle cx="402.00" cy="230.95" r="2.3" fill="#111"/>
<circle cx="269.50" cy="318.46" r="2.3" fill="#111"/>
<circle cx="296.00" cy="295.43" r="2.3" fill="#111"/>
<circle cx="308.64" cy="277.18" r="2.3" fill="#111"/>
<circle cx="322.50" cy="257.39" r="2.3" fill="#111"/>
<circle cx="335.14" cy="238.79" r="2.3" fill="#111"/>
<circle cx="349.00" cy="227.70" r="2.3" fill="#111"/>
<circle cx="375.50" cy="219.86" r="2.3" fill="#111"/>
<circle cx="402.00" cy="212.01" r="2.3" fill="#111"/>
<rect x="400.50" y="321.40" width="4.0" height="4.0" fill="#fff" stroke="#111" stroke-width="1.1"/>
<line x1="350.40" y1="270.10" x2="359.80" y2="270.10" stroke="#999" stroke-width="1.1"/>
<circle cx="355.30" cy="270.10" r="1.6" fill="#999"/>
<line x1="350.40" y1="280.80" x2="352.20" y2="280.80" stroke="#999" stroke-width="1.1"/>
<circle cx="359.50" cy="280.80" r="0.6" fill="#999"/>
<circle cx="355.30" cy="280.80" r="2.1" fill="#999"/>
<line x1="350.40" y1="291.10" x2="360.20" y2="291.10" stroke="#111" stroke-width="1.4"/>
<circle cx="355.30" cy="291.10" r="2.0" fill="#111"/>
<line x1="350.40" y1="301.40" x2="352.20" y2="301.40" stroke="#111" stroke-width="1.2"/>
<circle cx="359.50" cy="301.40" r="0.65" fill="#111"/>
<circle cx="355.30" cy="301.40" r="2.2" fill="#111"/>
<rect x="353.70" y="310.10" width="3.2" height="3.2" fill="#fff" stroke="#111" stroke-width="1.1"/>
<text x="363.40" y="272.20" font-size="7.9" text-anchor="start">wt Raji + CD19 Monovalent Ab</text>
<text x="363.40" y="282.80" font-size="7.9" text-anchor="start">CD47 Silenced Raji + CD19 monovalent Ab</text>
<text x="363.40" y="293.70" font-size="7.9" text-anchor="start">wt Raji + NI-1701</text>
<text x="363.40" y="304.10" font-size="7.9" text-anchor="start">CD47 Silenced Raji + NI-1701</text>
<text x="363.40" y="314.40" font-size="7.9" text-anchor="start">hIgG1</text>
</svg>
</body></html>
